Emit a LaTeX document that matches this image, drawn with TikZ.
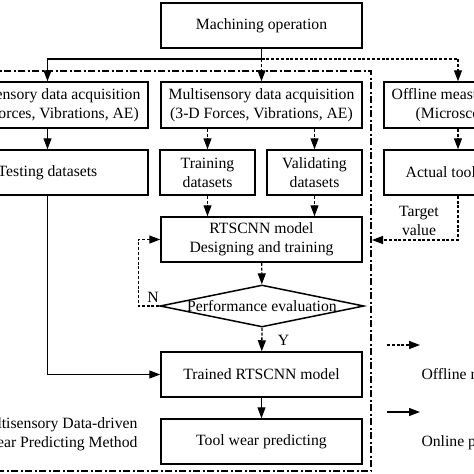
\documentclass[tikz,border=0pt]{standalone}
\usepackage{fontspec}
\setmainfont{Liberation Serif}
\usetikzlibrary{arrows.meta,shapes.geometric}
\begin{document}
\begin{tikzpicture}[x=1pt,y=-1pt,
  font=\fontsize{15.7}{19}\selectfont,
  box/.style={draw,line width=1.5pt,inner sep=0pt,align=center,minimum width=201pt,minimum height=45pt},
  online/.style={line width=1.3pt,-{Triangle[length=11pt,width=8pt]}},
  offline/.style={online,dash pattern=on 3pt off 1.8pt},
  frame/.style={line width=1.5pt,dash pattern=on 7pt off 2.5pt on 2pt off 2.5pt}]
\useasboundingbox (0,0) rectangle (474,474);
\clip (0,0) rectangle (474,474);

\node[box] (mach) at (261.5,25.5) {Machining operation};
\node[box,minimum height=46pt] (acqL) at (47.5,105) {Multisensory data acquisition\\(3-D Forces, Vibrations, AE)};
\node[box,minimum height=46pt] (acqM) at (261.5,105) {Multisensory data acquisition\\(3-D Forces, Vibrations, AE)};
\node[box,minimum height=46pt,minimum width=148pt] (meas) at (458,105) {Offline measurement\\(Microscope)};
\node[box] (test) at (47.5,172.5) {Testing datasets};
\node[box,minimum width=95pt] (train) at (207.5,172.5) {Training\\datasets};
\node[box,minimum width=95pt] (valid) at (314.5,172.5) {Validating\\datasets};
\node[box,minimum width=148pt] (actual) at (458,172.5) {Actual tool wear};
\node[box] (model) at (261.5,239.5) {RTSCNN model\\Designing and training};
\node[diamond,draw,line width=1.5pt,inner sep=0pt,minimum width=204pt,minimum height=42pt] (perf) at (262,306) {};
\node at (perf) {Performance evaluation};
\node[box] (trained) at (261.5,374.5) {Trained RTSCNN model};
\node[box] (tool) at (261.5,441.5) {Tool wear predicting};

\draw[frame] (-10,71) -- (371,71) -- (371,471) -- (-10,471);
\node[align=right,anchor=east] (method) at (141,434) {Multisensory Data-driven\\Tool Wear Predicting Method};

\coordinate (split) at (261.5,59);
\coordinate (frameR) at (372,240);
\draw[line width=1.3pt] (mach) -- (split);
\draw[online] (split) -| (acqL);
\draw[offline] (split) -- (acqM);
\draw[offline] (split) -| (meas);
\draw[online] (acqL) -- (test);
\draw[offline] (acqM.south -| train) -- (train);
\draw[offline] (acqM.south -| valid) -- (valid);
\draw[offline] (meas) -- (actual);
\draw[offline] (train) -- (train |- model.north);
\draw[offline] (valid) -- (valid |- model.north);
\draw[offline] (model) -- (perf);
\draw[offline] (perf.west) -- ++(-21,0) |- (model.west);
\node (no) at (153,297) {N};
\draw[offline] (perf.south) -- (trained) node[pos=0.55,right=12pt] (yes) {Y};
\draw[online] (test) |- (trained);
\draw[online] (trained) -- (tool);
\draw[offline] (actual.south) |- (frameR);
\node[align=center] (target) at (419,221) {Target\\value};

\coordinate (lgA) at (387,345);
\coordinate (lgB) at (387,412);
\draw[offline] (lgA) -- ++(33,0);
\draw[online] (lgB) -- ++(33,0);
\node[anchor=west] (offl) at (418,376) {Offline modeling};
\node[anchor=west] (onl) at (418,443) {Online predicting};
\end{tikzpicture}
\end{document}
